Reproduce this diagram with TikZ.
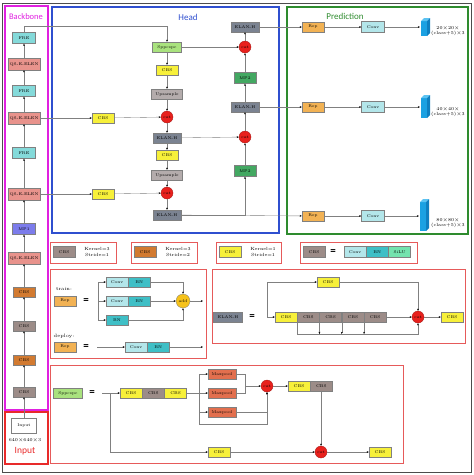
\documentclass[tikz,border=0pt]{standalone}
\usepackage{fontspec}
\newfontfamily\titlefont{Carlito}
\usetikzlibrary{arrows.meta,positioning}

\definecolor{cbsgray}{HTML}{9C8C88}
\definecolor{cbsorange}{HTML}{D27A30}
\definecolor{cbsyellow}{HTML}{F7F03A}
\definecolor{frecyan}{HTML}{84DADA}
\definecolor{qspink}{HTML}{E8938C}
\definecolor{mpblue}{HTML}{7C7CEB}
\definecolor{elangray}{HTML}{7B8391}
\definecolor{mpgreen}{HTML}{43A862}
\definecolor{upgray}{HTML}{B4ACAC}
\definecolor{sppgreen}{HTML}{A9E27E}
\definecolor{catred}{HTML}{E8211D}
\definecolor{addyellow}{HTML}{F6C21A}
\definecolor{reporange}{HTML}{F2B254}
\definecolor{convcyan}{HTML}{B3E6EA}
\definecolor{bnteal}{HTML}{3FBFC6}
\definecolor{silugreen}{HTML}{74E3AE}
\definecolor{maxpoolred}{HTML}{E26F4E}
\definecolor{boxred}{HTML}{E65A5A}
\definecolor{headblue}{HTML}{2F4FCF}
\definecolor{predgreen}{HTML}{2E8B2E}
\definecolor{bbmagenta}{HTML}{E020E0}
\definecolor{inputred}{HTML}{E82A2A}
\definecolor{cubefront}{HTML}{1BA1E2}
\definecolor{cubetop}{HTML}{5CC3F2}
\definecolor{cubeside}{HTML}{0F7FC0}
\definecolor{linegray}{HTML}{808080}

\newcommand{\tinyfont}{\fontsize{4}{4.6}\selectfont}
\newcommand{\smallfont}{\fontsize{4.5}{5.3}\selectfont}

%% blue output block: left x, top y, bottom y
\newcommand{\cuboid}[3]{%
	\fill[cubefront] (#1,#2+3) rectangle (#1+6,#3);
	\fill[cubetop] (#1,#2+3) -- (#1+3,#2) -- (#1+9,#2) -- (#1+6,#2+3) -- cycle;
	\fill[cubeside] (#1+6,#2+3) -- (#1+9,#2) -- (#1+9,#3-3) -- (#1+6,#3) -- cycle;
}

\begin{document}
\begin{tikzpicture}[x=1pt, y=-1pt, line width=0.35pt,
	blk/.style={draw=black!50, line width=0.3pt, inner sep=0pt, minimum height=10pt, minimum width=22pt, font=\tinyfont},
	cbsg/.style={blk, fill=cbsgray},
	cbso/.style={blk, fill=cbsorange},
	cbsy/.style={blk, fill=cbsyellow},
	fre/.style={blk, fill=frecyan, minimum width=23pt, minimum height=11pt},
	qs/.style={blk, fill=qspink, minimum width=32pt, minimum height=12pt},
	mpone/.style={blk, fill=mpblue, minimum width=23pt, minimum height=11pt},
	elan/.style={blk, fill=elangray, minimum width=28pt},
	mptwo/.style={blk, fill=mpgreen, minimum height=11pt},
	upsample/.style={blk, fill=upgray, minimum width=31pt},
	spp/.style={blk, fill=sppgreen, minimum width=29pt},
	rep/.style={blk, fill=reporange},
	conv/.style={blk, fill=convcyan},
	bn/.style={blk, fill=bnteal},
	silu/.style={blk, fill=silugreen},
	maxpool/.style={blk, fill=maxpoolred, minimum width=28pt},
	cat/.style={circle, fill=catred, draw=catred!70!black, line width=0.3pt, minimum size=12pt, inner sep=0pt, font=\tinyfont},
	add/.style={circle, fill=addyellow, draw=black!50, line width=0.3pt, minimum size=14pt, inner sep=0pt, font=\tinyfont},
	eq/.style={font=\titlefont\bfseries\fontsize{11}{11}\selectfont, inner sep=0pt},
	note/.style={font=\smallfont, align=center, inner sep=0pt},
	link/.style={draw=linegray, -{Stealth[length=2.2pt,width=1.8pt,color=black]}},
	plain/.style={draw=linegray},
	panel/.style={draw=boxred, line width=0.8pt},
]

	\useasboundingbox (0,0) rectangle (474,475);

	%% frames
	\draw[black!70, line width=1pt] (2.5,3) rectangle (471,472);
	\draw[bbmagenta, line width=1.5pt] (5,6) rectangle (48,410);
	\draw[inputred, line width=1.5pt] (5,412) rectangle (48,464);
	\draw[headblue, line width=1.5pt] (52,7) rectangle (279,233);
	\draw[predgreen, line width=1.5pt] (287,7) rectangle (468,234);

	\node[text=bbmagenta, font=\titlefont\fontsize{8.5}{9}\selectfont] (tbackbone) at (26,17) {Backbone};
	\node[text=headblue, font=\titlefont\fontsize{9}{10}\selectfont] (thead) at (188,17) {Head};
	\node[text=predgreen, font=\titlefont\fontsize{9}{10}\selectfont] (tpred) at (345,16) {Prediction};
	\node[text=inputred, font=\titlefont\fontsize{9.5}{10}\selectfont] (tinput) at (25,451) {Input};

	%% backbone
	\node[blk, fill=white, minimum width=25pt, minimum height=15pt] (in) at (24,426) {Input};
	\node[note] (insize) at (25,440) {640$\times$640$\times$3};
	\node[cbsg] (b1) at (24,392) {CBS};
	\node[cbso] (b2) at (24,360) {CBS};
	\node[cbsg] (b3) at (24,326) {CBS};
	\node[cbso] (b4) at (24,292) {CBS};
	\node[qs] (b5) at (24,258) {QS-E-ELEN};
	\node[mpone] (b6) at (24,229) {MP1};
	\node[qs] (b7) at (24,194) {QS-E-ELEN};
	\node[fre] (b8) at (24,153) {FRE};
	\node[qs] (b9) at (24,118) {QS-E-ELEN};
	\node[fre] (b10) at (24,91) {FRE};
	\node[qs] (b11) at (24,64) {QS-E-ELEN};
	\node[fre] (b12) at (24,38) {FRE};

	\foreach \a/\b in {in/b1, b1/b2, b2/b3, b3/b4, b4/b5, b5/b6, b6/b7, b7/b8, b8/b9, b9/b10, b10/b11, b11/b12}
		\draw[link] (\a) -- (\b);

	%% head, left column
	\node[spp] (sppf) at (167,47) {Sppcspc};
	\node[cbsy] (h1) at (167,70) {CBS};
	\node[upsample] (h2) at (167,94) {Upsample};
	\node[cat] (h3) at (167,117) {cat};
	\node[elan] (h4) at (167,138) {ELAN-H};
	\node[cbsy] (h5) at (167,155) {CBS};
	\node[upsample] (h6) at (167,175) {Upsample};
	\node[cat] (h7) at (167,193) {cat};
	\node[elan] (h8) at (167,215) {ELAN-H};

	\node[cbsy] (l1) at (103,118) {CBS};
	\node[cbsy] (l2) at (103,194) {CBS};

	%% head, right column
	\node[elan] (r1) at (245,27) {ELAN-H};
	\node[cat] (r2) at (245,47) {cat};
	\node[mptwo] (r3) at (245,78) {MP2};
	\node[elan] (r4) at (245,107) {ELAN-H};
	\node[cat] (r5) at (245,137) {cat};
	\node[mptwo] (r6) at (245,171) {MP2};

	\draw[link] (b12.north) -- ++(0,-6) -| (sppf.north);
	\foreach \a/\b in {sppf/h1, h1/h2, h2/h3, h3/h4, h4/h5, h5/h6, h6/h7, h7/h8}
		\draw[link] (\a) -- (\b);
	\draw[link] (b9) -- (l1);
	\draw[link] (l1) -- (h3);
	\draw[link] (b7) -- (l2);
	\draw[link] (l2) -- (h7);
	\draw[link] (sppf) -- (r2);
	\draw[link] (h4) -- (r5);
	\draw[link] (h8.east) -| (r6);
	\foreach \a/\b in {r6/r5, r5/r4, r4/r3, r3/r2, r2/r1}
		\draw[link] (\a) -- (\b);

	%% prediction
	\node[rep] (p1) at (313,27) {Rep};
	\node[rep] (p2) at (313,107) {Rep};
	\node[rep] (p3) at (313,216) {Rep};
	\node[conv, minimum width=23pt, minimum height=11pt] (c1) at (373,27) {Conv};
	\node[conv, minimum width=23pt, minimum height=11pt] (c2) at (373,107) {Conv};
	\node[conv, minimum width=23pt, minimum height=11pt] (c3) at (373,216) {Conv};

	\cuboid{421}{18}{36}
	\cuboid{421}{95}{118}
	\cuboid{420}{199}{231}
	\coordinate (o1) at (420,27);
	\coordinate (o2) at (420,107);
	\coordinate (o3) at (419,216);

	\node[note] (s1) at (448,31) {20$\times$20$\times$\\(class+5)$\times$3};
	\node[note] (s2) at (448,112) {40$\times$40$\times$\\(class+5)$\times$3};
	\node[note] (s3) at (448,223) {80$\times$80$\times$\\(class+5)$\times$3};

	\draw[link] (r1) -- (p1);
	\draw[link] (r4) -- (p2);
	\draw[link] (h8) -- (p3);
	\foreach \a/\b/\c in {p1/c1/o1, p2/c2/o2, p3/c3/o3}
	{
		\draw[link] (\a) -- (\b);
		\draw[link] (\b) -- (\c);
	}

	%% legend row
	\draw[panel] (50,242) rectangle (116,263);
	\draw[panel] (131,242) rectangle (197,263);
	\draw[panel] (216,242) rectangle (281,263);
	\draw[panel] (300,242) rectangle (417,263);

	\node[cbsg, minimum height=11pt] (k1) at (64,252) {CBS};
	\node[note] (k1t) at (97,252) {Kernel=3\\Stride=1};
	\node[cbso, minimum height=11pt] (k2) at (145,252) {CBS};
	\node[note] (k2t) at (178,252) {Kernel=3\\Stride=2};
	\node[cbsy, minimum height=11pt] (k3) at (230,252) {CBS};
	\node[note] (k3t) at (263,252) {Kernel=1\\Stride=1};
	\node[cbsg, minimum height=11pt] (k4) at (314,252) {CBS};
	\node[eq] (eq0) at (333,252) {=};
	\node[conv, minimum height=11pt] (kconv) at (355,252) {Conv};
	\node[bn, minimum height=11pt, right=0pt of kconv] (kbn) {BN};
	\node[silu, minimum height=11pt, right=0pt of kbn] (ksilu) {SiLU};

	%% Rep block
	\draw[panel] (50,269) rectangle (206,358);
	\node[note, font=\fontsize{4.8}{5}\selectfont] (ttrain) at (64,289) {train:};
	\node[rep] (repa) at (65,301) {Rep};
	\node[eq] (eq1) at (86,301) {=};
	\coordinate (tsplit) at (98,301);
	\node[conv] (conva) at (117,282) {Conv};
	\node[bn, right=0pt of conva] (bna) {BN};
	\node[conv] (convb) at (117,301) {Conv};
	\node[bn, right=0pt of convb] (bnb) {BN};
	\node[bn] (bnc) at (117,320) {BN};
	\node[add] (add) at (183,301) {add};
	\coordinate (trainout) at (203,301);

	\draw[link] (tsplit) |- (conva);
	\draw[link] (tsplit) -- (convb);
	\draw[link] (tsplit) |- (bnc);
	\draw[link] (bna) -| (add);
	\draw[link] (bnb) -- (add);
	\draw[link] (bnc) -| (add);
	\draw[link] (add) -- (trainout);

	\node[note, font=\fontsize{4.8}{5}\selectfont] (tdeploy) at (64,336) {deploy:};
	\node[rep] (repb) at (65,347) {Rep};
	\node[eq] (eq2) at (86,347) {=};
	\coordinate (dsplit) at (97,347);
	\node[conv] (convd) at (136,347) {Conv};
	\node[bn, right=0pt of convd] (bnd) {BN};
	\coordinate (deployout) at (203,347);
	\draw[link] (dsplit) -- (convd);
	\draw[link] (bnd) -- (deployout);

	%% ELAN-H block
	\draw[panel] (212,269) rectangle (465,343);
	\node[elan, minimum width=29pt] (elanh) at (228,317) {ELAN-H};
	\node[eq] (eq3) at (252,317) {=};
	\coordinate (esplit) at (267,317);
	\node[cbsy] (e0) at (328,282) {CBS};
	\node[cbsy] (e1) at (286,317) {CBS};
	\node[cbsg, right=0pt of e1] (e2) {CBS};
	\node[cbsg, right=0pt of e2] (e3) {CBS};
	\node[cbsg, right=0pt of e3] (e4) {CBS};
	\node[cbsg, right=0pt of e4] (e5) {CBS};
	\node[cat] (ecat) at (418,317) {cat};
	\node[cbsy] (eout) at (452,317) {CBS};
	\coordinate (ebot) at (418,334);

	\draw[link] (esplit) |- (e0);
	\draw[link] (esplit) -- (e1);
	\draw[link] (e0) -| (ecat);
	\draw[link] (e5) -- (ecat);
	\draw[link] (ecat) -- (eout);
	\draw[link] (e1.south east) |- (ebot) -- (ecat);
	\foreach \n in {e2, e3, e4}
		\draw[link] (\n.south east) -- (\n.south east |- ebot);

	%% Sppcspc block
	\draw[panel] (50,365) rectangle (403,463);
	\node[spp] (sppb) at (68,393) {Sppcspc};
	\node[eq] (eq4) at (92,393) {=};
	\coordinate (sstart) at (102,393);
	\coordinate (ssplit) at (110,393);
	\node[cbsy] (q1) at (131,393) {CBS};
	\node[cbsg, right=0pt of q1] (q2) {CBS};
	\node[cbsy, right=0pt of q2] (q3) {CBS};
	\coordinate (msplit) at (199,393);
	\node[maxpool] (mpa) at (222,374) {Maxpool};
	\node[maxpool] (mpb) at (222,393) {Maxpool};
	\node[maxpool] (mpc) at (222,412) {Maxpool};
	\coordinate (mjoin) at (245,386);
	\node[cat] (qcat) at (267,386) {cat};
	\node[cbsy] (q4) at (299,386) {CBS};
	\node[cbsg, right=0pt of q4] (q5) {CBS};
	\node[cbsy] (qb) at (219,452) {CBS};
	\node[cat] (qcat2) at (321,452) {cat};
	\node[cbsy] (qout) at (380,452) {CBS};

	\draw[link] (sstart) -- (q1);
	\draw[link] (ssplit) |- (qb);
	\draw[link] (q3) -- (mpb);
	\draw[link] (msplit) |- (mpa);
	\draw[link] (msplit) |- (mpc);
	\draw[link] (msplit) -- ++(0,31) -| (qcat);
	\draw[plain] (mpa) -| (mjoin);
	\draw[plain] (mpb) -| (mjoin);
	\draw[link] (mjoin) -- (qcat);
	\draw[link] (mpc) -| (qcat);
	\draw[link] (qcat) -- (q4);
	\draw[link] (q5.south -| qcat2) -- (qcat2);
	\draw[link] (qb) -- (qcat2);
	\draw[link] (qcat2) -- (qout);

\end{tikzpicture}
\end{document}
